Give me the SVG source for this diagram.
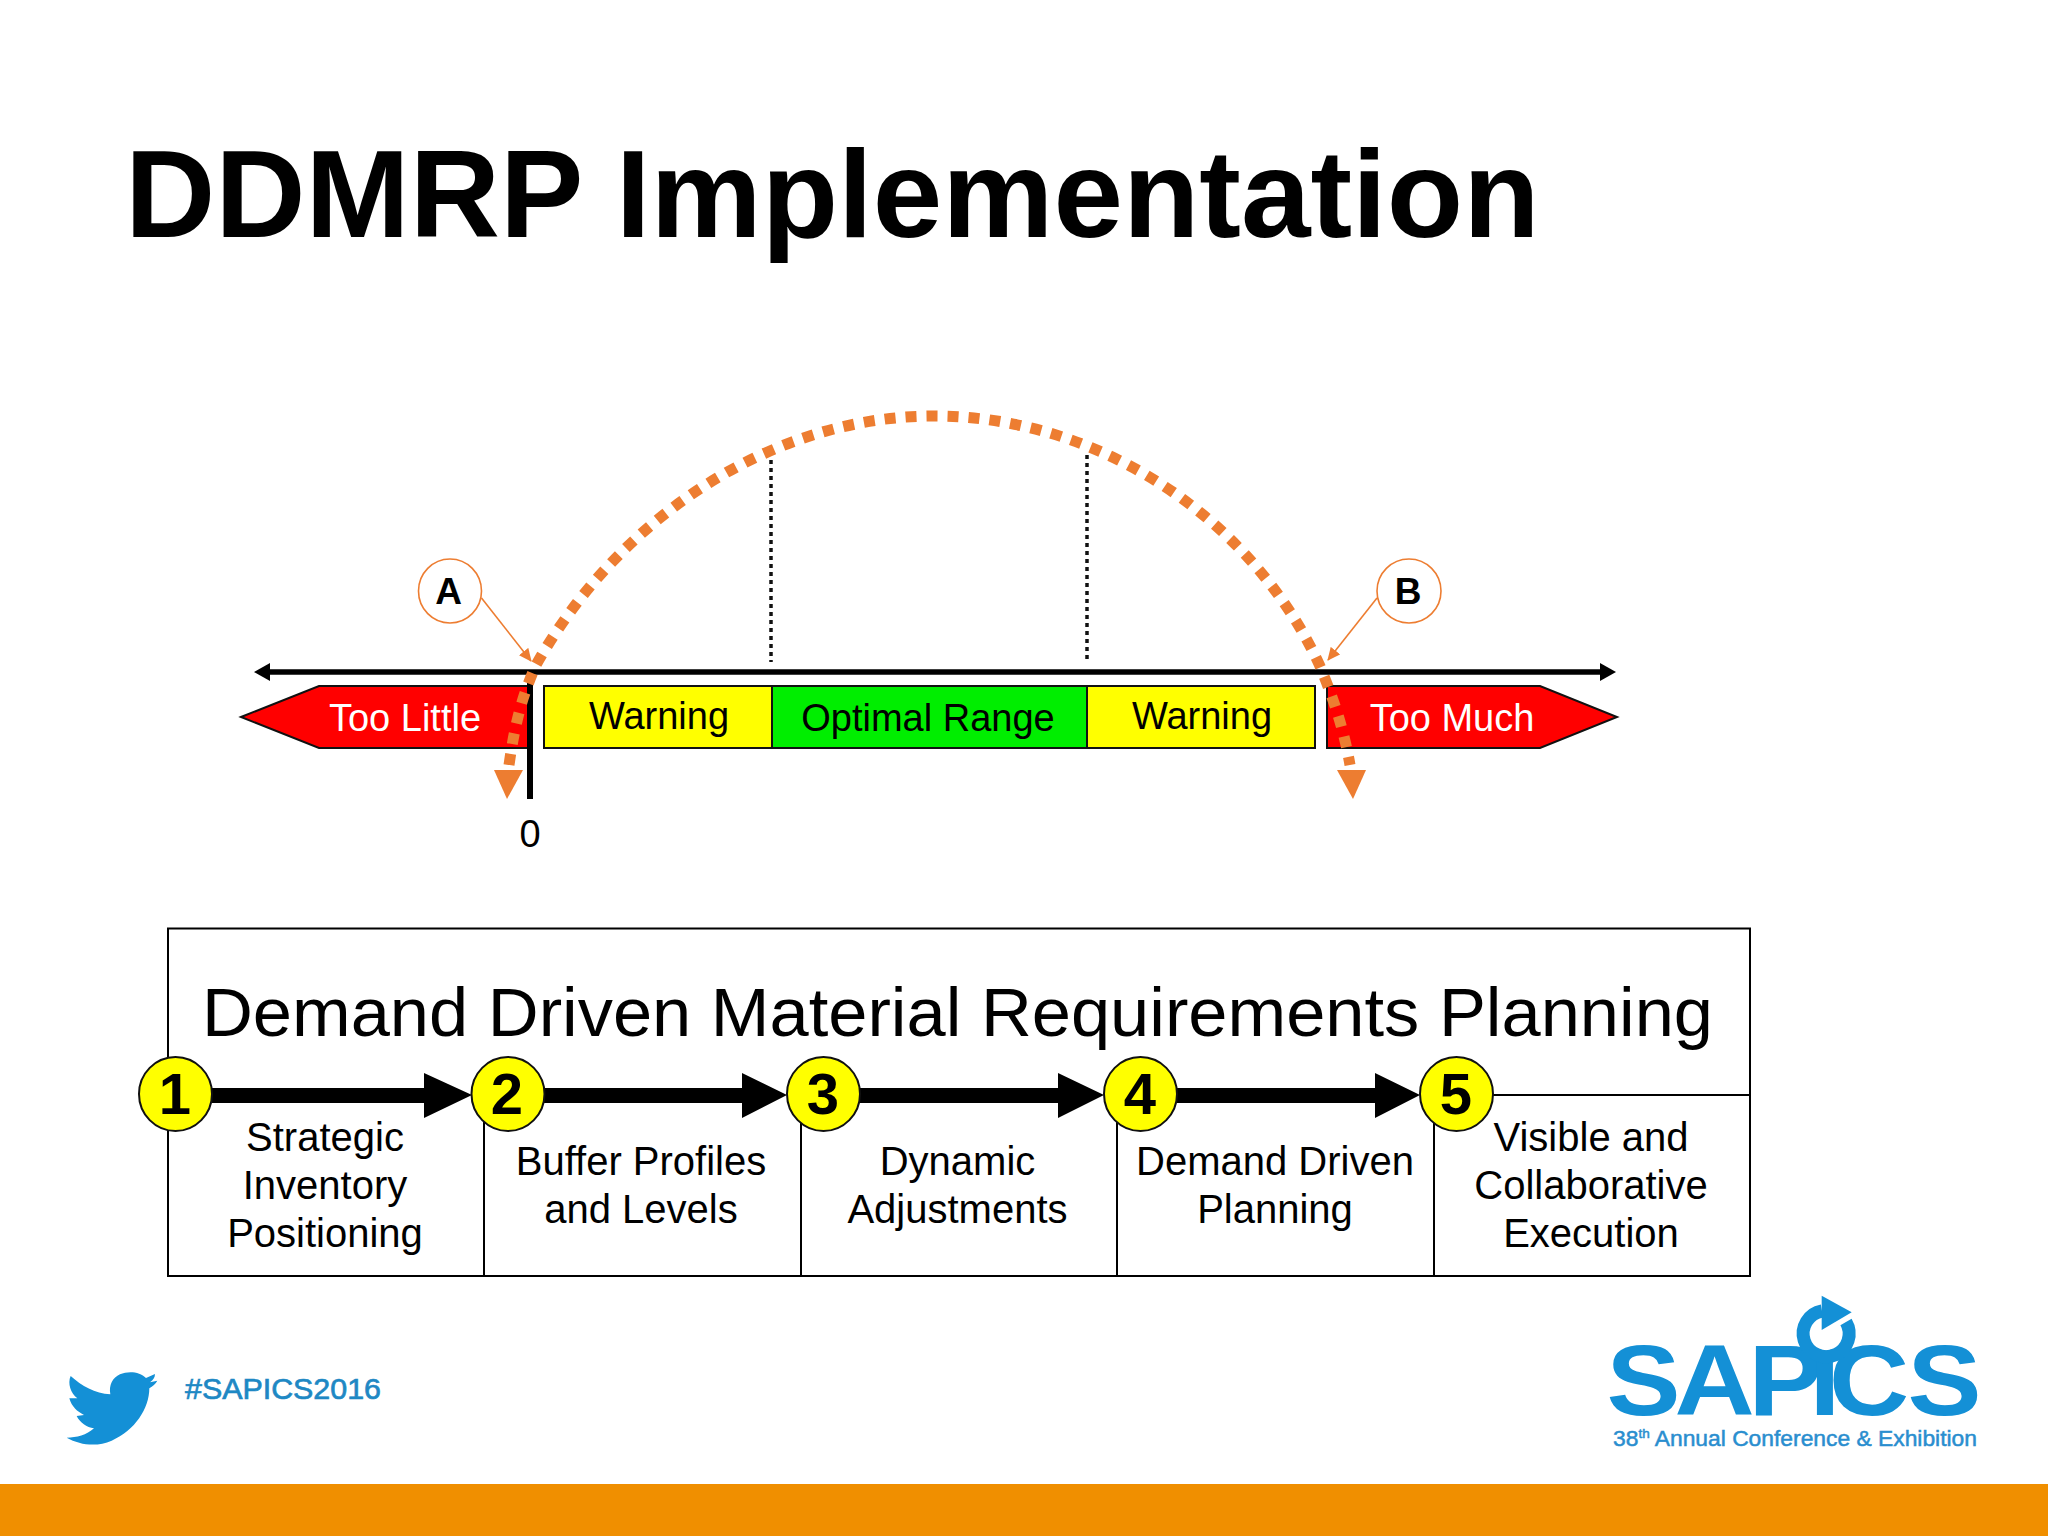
<svg xmlns="http://www.w3.org/2000/svg" width="2048" height="1536" viewBox="0 0 2048 1536">
<style>
text{font-family:"Liberation Sans",Arial,sans-serif;fill:#000;text-anchor:middle}
.title{font-size:125px;font-weight:700;text-anchor:start}
.band{font-size:38px}
.white{fill:#fff}
.letter{font-size:37px;font-weight:700}
.step{font-size:40px}
.num{font-size:58px;font-weight:700}
.box{fill:none;stroke:#000;stroke-width:2}
.ball{fill:#ff0;stroke:#111;stroke-width:2}
.ring{fill:#fff;stroke:#ed7d31;stroke-width:1.6}
.call{fill:none;stroke:#ed7d31;stroke-width:1.6;marker-end:url(#callHead)}
.shaft{fill:#000}
.blue{fill:#1490d6}
.tag{fill:#1e88c4;stroke:#1e88c4;stroke-width:.7}
</style>
<defs>
<marker id="axisHead" markerUnits="userSpaceOnUse" markerWidth="16" markerHeight="18" viewBox="0 0 16 18" refX="1" refY="9" orient="auto-start-reverse"><polygon points="0,0 16,9 0,18" fill="#000"/></marker>
<marker id="callHead" markerUnits="userSpaceOnUse" markerWidth="13" markerHeight="12" viewBox="0 0 13 12" refX="12" refY="6" orient="auto"><polygon points="0,0 13,6 0,12" fill="#ed7d31"/></marker>
</defs>
<rect width="2048" height="1536" fill="#fff"/>
<text class="title" x="125" y="237">DDMRP Implementation</text>

<g id="zone-too-little"><polygon points="241,717 319,686 528,686 528,748 319,748" fill="#f00" stroke="#111" stroke-width="2"/><text class="band white" x="405" y="731">Too Little</text></g>
<g id="zone-warning-1"><rect x="544" y="686" width="228" height="62" fill="#ff0" stroke="#111" stroke-width="2"/><text class="band" x="659" y="729">Warning</text></g>
<g id="zone-optimal"><rect x="772" y="686" width="315" height="62" fill="#00ee00" stroke="#111" stroke-width="2"/><text class="band" x="928" y="731">Optimal Range</text></g>
<g id="zone-warning-2"><rect x="1087" y="686" width="228" height="62" fill="#ff0" stroke="#111" stroke-width="2"/><text class="band" x="1202" y="729">Warning</text></g>
<g id="zone-too-much"><polygon points="1327,686 1540,686 1617,717 1540,748 1327,748" fill="#f00" stroke="#111" stroke-width="2"/><text class="band white" x="1452" y="731">Too Much</text></g>

<g id="marker-a"><ellipse class="ring" cx="450" cy="591" rx="31.5" ry="32"/><text class="letter" x="448.5" y="604">A</text></g>
<g id="marker-b"><ellipse class="ring" cx="1409" cy="591" rx="32" ry="32"/><text class="letter" x="1408" y="604">B</text></g>
<g id="zero-label"><text class="band" x="530" y="847">0</text></g>

<g id="connectors">
<line x1="771" y1="460" x2="771" y2="662" stroke="#111" stroke-width="3.5" stroke-dasharray="4 4"/>
<line x1="1087" y1="455" x2="1087" y2="662" stroke="#111" stroke-width="3.5" stroke-dasharray="4 4"/>
<line x1="269" y1="672" x2="1601" y2="672" stroke="#000" stroke-width="5.4" marker-start="url(#axisHead)" marker-end="url(#axisHead)"/>
<line x1="530" y1="672" x2="530" y2="799" stroke="#000" stroke-width="6"/>
<path d="M509,765 C516,715 525,690 536,665 C620,515 775,416 934,416 C1095,416 1250,515 1319,664 C1332,695 1343,725 1350,765" fill="none" stroke="#ed7d31" stroke-width="11" stroke-dasharray="11 10"/>
<polygon points="494,770 523,770 507,799" fill="#ed7d31"/>
<polygon points="1337,770 1366,770 1353,799" fill="#ed7d31"/>
<line class="call" x1="481.5" y1="598" x2="531" y2="661"/>
<line class="call" x1="1377" y1="598" x2="1328" y2="660"/>
</g>

<g id="process-frame">
<rect class="box" x="168" y="928.500" width="1582" height="347.500"/>
<line class="box" x1="484" y1="1094" x2="484" y2="1276"/>
<line class="box" x1="801" y1="1094" x2="801" y2="1276"/>
<line class="box" x1="1117" y1="1094" x2="1117" y2="1276"/>
<line class="box" x1="1434" y1="1094" x2="1434" y2="1276"/>
<line class="box" x1="1456" y1="1095" x2="1750" y2="1095"/>
<text x="957.500" y="1036" font-size="69" textLength="1511" lengthAdjust="spacingAndGlyphs">Demand Driven Material Requirements Planning</text>
</g>

<g id="process-arrows">
<polygon class="shaft" points="212,1088 424,1088 424,1073 472,1095 424,1118 424,1103 212,1103"/>
<polygon class="shaft" points="544,1088 742,1088 742,1073 787,1095 742,1118 742,1103 544,1103"/>
<polygon class="shaft" points="860,1088 1058,1088 1058,1073 1104,1095 1058,1118 1058,1103 860,1103"/>
<polygon class="shaft" points="1176,1088 1375,1088 1375,1073 1420,1095 1375,1118 1375,1103 1176,1103"/>
</g>

<g id="step-1"><ellipse class="ball" cx="175.500" cy="1094" rx="36.500" ry="37"/><text class="num" x="175" y="1114">1</text><text class="step" x="325" y="1151">Strategic</text><text class="step" x="325" y="1199">Inventory</text><text class="step" x="325" y="1247">Positioning</text></g>
<g id="step-2"><ellipse class="ball" cx="508" cy="1094" rx="36.500" ry="37"/><text class="num" x="507" y="1114">2</text><text class="step" x="641" y="1175">Buffer Profiles</text><text class="step" x="641" y="1223">and Levels</text></g>
<g id="step-3"><ellipse class="ball" cx="823.500" cy="1094" rx="36.500" ry="37"/><text class="num" x="823" y="1114">3</text><text class="step" x="957.500" y="1175">Dynamic</text><text class="step" x="957.500" y="1223">Adjustments</text></g>
<g id="step-4"><ellipse class="ball" cx="1140.500" cy="1094" rx="36.500" ry="37"/><text class="num" x="1140" y="1114">4</text><text class="step" x="1275" y="1175">Demand Driven</text><text class="step" x="1275" y="1223">Planning</text></g>
<g id="step-5"><ellipse class="ball" cx="1456.500" cy="1094" rx="36.500" ry="37"/><text class="num" x="1456" y="1114">5</text><text class="step" x="1591" y="1151">Visible and</text><text class="step" x="1591" y="1199">Collaborative</text><text class="step" x="1591" y="1247">Execution</text></g>

<g id="twitter">
<path class="blue" transform="translate(40,1340) scale(.3333)" d="M345 102 L318 114 C300 95 265 92 240 103 C218 113 206 135 211 163 C165 160 125 138 92 108 C82 130 92 160 112 175 L88 175 C95 200 112 215 132 225 L110 228 C120 248 140 262 162 265 C140 285 110 293 80 293 C120 315 170 322 215 302 C285 272 328 205 328 145 C338 138 347 132 352 122 L330 127 C340 120 345 112 345 102 Z"/>
<text class="tag" x="283" y="1399" font-size="30.400">#SAPICS2016</text>
</g>

<g id="sapics-logo">
<text class="blue" style="text-anchor:start" transform="translate(1602.500,1415) scale(1.11,1)" x="3.6 64.9 131.5 186.5 204 274.8" y="0" font-size="100" font-weight="700">SAPICS</text>
<circle cx="1825.500" cy="1334" r="16.500" fill="#fff"/>
<path d="M1822,1311 A23 23 0 1 0 1846,1322" fill="none" stroke="#1490d6" stroke-width="13"/>
<polygon class="blue" points="1821.700,1295.700 1851.700,1312.300 1821.700,1330"/>
<text style="fill:#2a8ecf;stroke:#2a8ecf;stroke-width:.5" x="1795" y="1446" font-size="22" textLength="364" lengthAdjust="spacingAndGlyphs">38<tspan font-size="13" dy="-8">th</tspan><tspan dy="8"> Annual Conference &amp; Exhibition</tspan></text>
</g>

<rect id="footer-bar" x="0" y="1484" width="2048" height="52" fill="#f08f00"/>
</svg>
